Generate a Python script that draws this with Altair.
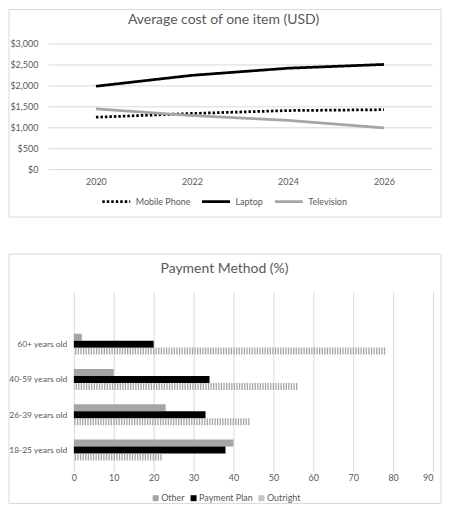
"""Two Excel-look charts stacked: average item cost over time, and payment method by age group."""
import altair as alt
import pandas as pd

FONT = "Lato"
TEXT = "#595959"
GRID = "#d9d9d9"

# average cost of one item (USD)
cost_title = "Average cost of one item (USD)"
years = ["2020", "2022", "2024", "2026"]
devices = ["Mobile Phone", "Laptop", "Television"]
mobile_phone = [1240, 1330, 1400, 1420]
laptop = [1980, 2240, 2410, 2500]
television = [1440, 1280, 1165, 985]
cost_ticks = [0, 500, 1000, 1500, 2000, 2500, 3000]

# payment method (%) by age group, listed top to bottom
pay_title = "Payment Method (%)"
age_groups = ["60+ years old", "40-59 years old", "26-39 years old", "18-25 years old"]
methods = ["Other", "Payment Plan", "Outright"]
other = [2, 10, 23, 40]
payment_plan = [20, 34, 33, 38]
outright = [78, 56, 44, 22]
pct_ticks = [0, 10, 20, 30, 40, 50, 60, 70, 80, 90]

cost = pd.DataFrame({
    "year": years * 3,
    "device": [d for d in devices for _ in years],
    "cost": mobile_phone + laptop + television,
})
solid = pd.DataFrame({
    "age": age_groups * 2,
    "method": ["Other"] * 4 + ["Payment Plan"] * 4,
    "pct": other + payment_plan,
})
striped = pd.DataFrame({"age": age_groups, "method": "Outright", "pct": outright})


def frame(x1, x2, y1, y2):
    """Thin grey chart-area border, like Excel draws round each chart."""
    return (
        alt.Chart(pd.DataFrame({"f": [0]}))
        .mark_rect(fillOpacity=0, stroke=GRID, strokeWidth=1)
        .encode(x=alt.value(x1), x2=alt.value(x2), y=alt.value(y1), y2=alt.value(y2))
    )


def heading(text, x, y):
    """Chart title drawn inside the frame (a real title gets pushed above the frame)."""
    return (
        alt.Chart(pd.DataFrame({"t": [text]}))
        .mark_text(font=FONT, fontSize=14, color=TEXT, align="center", baseline="middle")
        .encode(text="t:N", x=alt.value(x), y=alt.value(y))
    )


# --- top: line chart
line_legend = alt.Legend(title=None, orient="none", legendX=53, legendY=143, direction="horizontal",
                         symbolType="stroke", symbolSize=784, symbolStrokeWidth=2.75,
                         labelFontSize=9, labelColor=TEXT, labelOffset=4, columnPadding=6, padding=0)
lines = (
    alt.Chart(cost)
    .mark_line(strokeWidth=2.75, strokeCap="butt")
    .encode(
        x=alt.X("year:O", title=None, scale=alt.Scale(type="point", padding=0.5),
                axis=alt.Axis(labelAngle=0, domain=False, ticks=False, grid=False, labelPadding=8)),
        y=alt.Y("cost:Q", title=None, scale=alt.Scale(domain=[0, 3000]),
                axis=alt.Axis(values=cost_ticks, format="$,.0f", domain=False, ticks=False,
                              labelPadding=10, gridColor=GRID)),
        color=alt.Color("device:N", scale=alt.Scale(domain=devices, range=["#000000", "#000000", "#a5a5a5"]),
                        legend=line_legend),
        strokeDash=alt.StrokeDash("device:N", scale=alt.Scale(domain=devices, range=[[2.5, 2], [1, 0], [1, 0]]),
                                  legend=line_legend),
    )
)
top = alt.layer(frame(-39, 394, -34, 174), heading(cost_title, 176, -24), lines).properties(
    width=385, height=126)

# --- bottom: grouped horizontal bars (an empty top band, as in the original)
y_enc = alt.Y("age:N", title=None,
              scale=alt.Scale(domain=[""] + age_groups, paddingInner=0.407, paddingOuter=0.246, align=0.37),
              axis=alt.Axis(domain=False, ticks=False, grid=False, offset=-26, labelPadding=7, labelFontSize=8.5))
x_enc = alt.X("pct:Q", title=None, scale=alt.Scale(domain=[-6.5, 90], nice=False),
              axis=alt.Axis(values=pct_ticks, domain=False, ticks=False, gridColor=GRID, labelPadding=2))
y_off = alt.YOffset("method:N", scale=alt.Scale(domain=methods, paddingInner=0, paddingOuter=0))

bars = (
    alt.Chart(solid)
    .mark_bar()
    .encode(
        x=x_enc, y=y_enc, yOffset=y_off,
        color=alt.Color("method:N", scale=alt.Scale(domain=methods, range=["#a5a5a5", "#000000", "#c4c4c4"]),
                        legend=alt.Legend(title=None, orient="none", legendX=103.5, legendY=202,
                                          direction="horizontal", symbolType="square", symbolSize=36,
                                          labelFontSize=9, labelColor=TEXT, labelOffset=1,
                                          columnPadding=4, padding=0)),
    )
)
# "Outright" is hatched in the original: a thick dashed rule gives the vertical stripes
stripes = (
    alt.Chart(striped)
    .mark_rule(strokeWidth=7, strokeDash=[1.3, 1.3], strokeCap="butt", color="#a5a5a5")
    .encode(x=x_enc, x2=alt.datum(0), y=y_enc, yOffset=y_off)
)
bottom = alt.layer(frame(-39, 394, -38, 212), heading(pay_title, 177, -23), bars, stripes).properties(
    width=386, height=180)

chart = (
    alt.vconcat(top, bottom, spacing=35)
    .resolve_scale(color="independent", strokeDash="independent")
    .properties(padding=0)
    .configure(font=FONT)
    .configure_view(strokeWidth=0)
    .configure_axis(labelFont=FONT, labelFontSize=9, labelColor=TEXT)
    .configure_legend(labelFont=FONT)
)
chart.save("out.html", embed_options={"renderer": "svg", "actions": False})
